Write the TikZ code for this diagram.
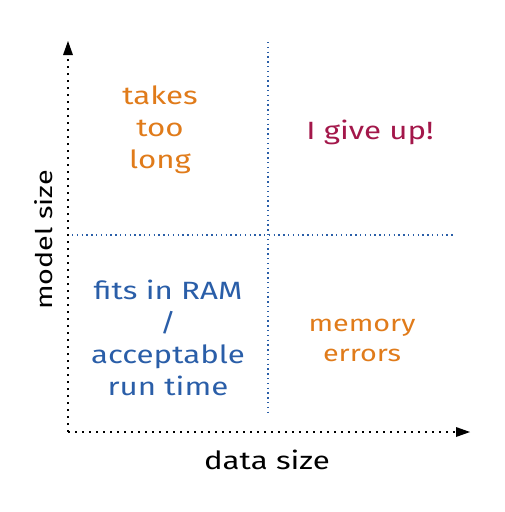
\documentclass[tikz,border=0pt]{standalone}
\usepackage{fontspec}
\setmainfont[FakeStretch=1.25]{Fira Sans}
\usetikzlibrary{arrows.meta}
\definecolor{cOrange}{HTML}{E07B1A}
\definecolor{cBlue}{HTML}{2A5EA8}
\definecolor{cRed}{HTML}{A3174A}
\tikzset{
  axisline/.style={line width=1.6pt, dash pattern=on 1.6pt off 5.4pt, line cap=butt, black},
  gridline/.style={line width=1.3pt, dash pattern=on 1.3pt off 3.5pt, cBlue},
  lbl/.style={font=\fontsize{25}{32}\selectfont, align=center, inner sep=0pt},
  lblsmall/.style={font=\fontsize{23}{30}\selectfont, align=center, inner sep=0pt},
}
\begin{document}
\begin{tikzpicture}[x=1pt,y=-1pt]
\useasboundingbox (0,0) rectangle (505,512);
\coordinate (o) at (68,432);
\coordinate (ytop) at (68,44);
\coordinate (xend) at (467,432);
\coordinate (vtop) at (268,42);
\coordinate (vbot) at (268,416);
\coordinate (hl) at (72,235);
\coordinate (hr) at (455,235);
\draw[gridline] (vtop) -- (vbot);
\draw[gridline] (hl) -- (hr);
\draw[axisline] (o) -- (ytop);
\draw[axisline] (o) -- (xend);
\fill (ytop) ++(0,-3) -- ++(-5,14) -- ++(10,0) -- cycle;
\fill (xend) ++(3,0) -- ++(-14,-5) -- ++(0,10) -- cycle;
\node[lbl, text=cOrange] (tl) at (160,130) {takes\\too\\long};
\node[lbl, text=cRed] (tr) at (370,132) {I give up!};
\node[lbl, text=cBlue] (bl) at (168,338) {fits in RAM\\/\\acceptable\\run time};
\node[lblsmall, text=cOrange] (br) at (362,340) {memory\\errors};
\node[lbl] (xl) at (267,460) {data size};
\node[lblsmall, rotate=90] (yl) at (44,240) {model size};
\end{tikzpicture}
\end{document}
